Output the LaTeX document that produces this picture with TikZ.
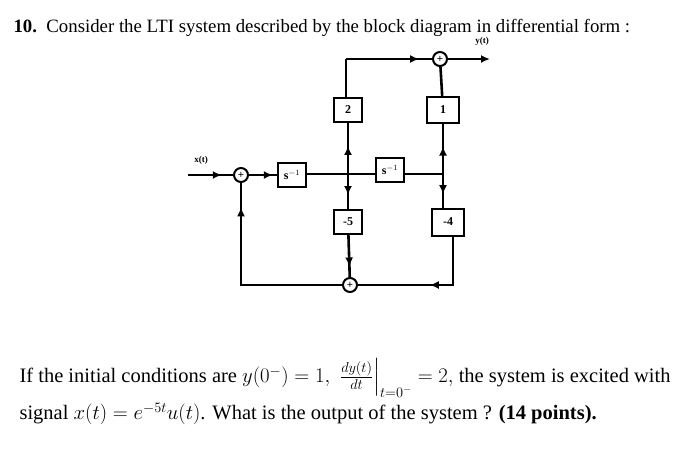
\documentclass[tikz,border=0pt]{standalone}
\usepackage{fontspec}
\setmainfont{Liberation Serif}
\usepackage{amsmath}
\usetikzlibrary{arrows.meta,decorations.markings}
\begin{document}
\begin{tikzpicture}[x=1pt,y=-1pt,
  blk/.style={draw,line width=2pt,minimum width=28pt,minimum height=24pt,inner sep=0pt,font=\bfseries\fontsize{12}{14}\selectfont},
  sumn/.style={draw,circle,line width=2pt,minimum size=14pt,inner sep=0pt,font=\bfseries\fontsize{11}{11}\selectfont},
  wire/.style={line width=2.6pt},
  marr/.style={postaction={decorate},decoration={markings,mark=at position #1 with {\arrow{Latex[length=9pt,width=8pt]}}}}]
\useasboundingbox (0,0) rectangle (700,453);
\fill[white] (0,0) rectangle (700,453);
\node[anchor=west,font=\fontsize{18.8}{22}\selectfont] (title) at (10,28) {\textbf{10.}\ \ Consider the LTI system described by the block diagram in differential form :};
\node[font=\bfseries\fontsize{9}{10}\selectfont] (ylab) at (482,41) {y(t)};
\node[font=\bfseries\fontsize{9}{10}\selectfont] (xlab) at (201,160) {x(t)};
\node[sumn] (s1) at (241,175) {+};
\node[sumn] (s2) at (440,59) {+};
\node[sumn] (s3) at (350,285) {+};
\node[blk] (i1) at (292,175) {s$^{-1}$};
\node[blk] (i2) at (390,170) {s$^{-1}$};
\node[blk] (g2) at (348,110) {2};
\node[blk,minimum width=32pt,minimum height=26pt] (g1) at (443,110) {1};
\node[blk] (g5) at (348,222) {-5};
\node[blk,minimum width=32pt,minimum height=27pt] (g4) at (448,222) {-4};
\coordinate (xin) at (188,175);
\coordinate (yout) at (490,59);
\coordinate (ja) at (348,174);
\coordinate (jb) at (443,174);
\coordinate (tl) at (346,59);
\coordinate (bl) at (241,285);
\coordinate (br) at (453,285);
\draw[wire,marr=0.75] (xin) -- (s1);
\draw[wire,marr=0.85] (s1) -- (i1);
\draw[wire] (i1.east |- ja) -- (ja) -- (i2.west |- ja);
\draw[wire,marr=0.55] (ja) -- (g2);
\draw[wire,marr=0.6] (ja) -- (g5);
\draw[wire,marr=0.75] (g5) -- (s3);
\draw[wire] (i2.east |- jb) -- (jb);
\draw[wire,marr=0.55] (jb) -- (g1);
\draw[wire,marr=0.6] (jb) -- (g4.north -| jb);
\draw[wire] (g1) -- (s2);
\draw[wire] (g2.north -| tl) -- (tl);
\draw[wire,marr=0.85] (tl) -- (s2);
\draw[wire,-{Latex[length=9pt,width=8pt]}] (s2) -- (yout);
\draw[wire,marr=0.5] (g4.south -| br) -- (br) -- (s3);
\draw[wire,marr=0.88] (s3) -- (bl) -- (s1);
\node[anchor=west,font=\fontsize{20.5}{24}\selectfont] (l1) at (16,378) {If the initial conditions are $y(0^-)=1,\ \left.\tfrac{dy(t)}{dt}\right|_{t=0^-}=2,$ the system is excited with};
\node[anchor=west,font=\fontsize{20.5}{24}\selectfont] (l2) at (16,414) {signal $x(t)=e^{-5t}u(t)$. What is the output of the system ? \textbf{(14 points).}};
\end{tikzpicture}
\end{document}
